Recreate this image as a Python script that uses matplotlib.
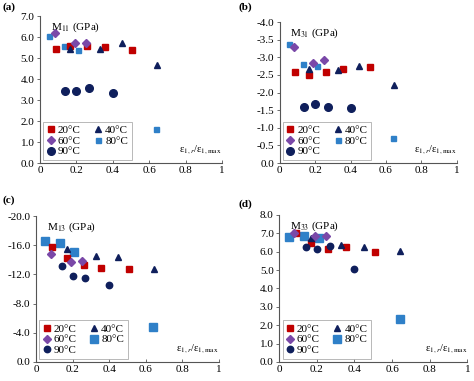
import matplotlib
matplotlib.use('Agg')
from matplotlib import pyplot as plt

plt.rcParams['font.family'] = ['Liberation Serif', 'DejaVu Serif']
plt.rcParams['mathtext.fontset'] = 'stix'

temps = ['20°C', '40°C', '60°C', '80°C', '90°C']

# strain ratio positions for each temperature series
x20 = [0.087, 0.167, 0.26, 0.355, 0.507]
x40 = [0.167, 0.33, 0.45, 0.643]
x60 = [0.08, 0.19, 0.25]
x80 = [0.05, 0.13, 0.21, 0.64]
x90 = [0.14, 0.20, 0.27, 0.40]

# M11 (GPa)
m11_20 = [5.45, 5.56, 5.56, 5.53, 5.39]
m11_40 = [5.42, 5.44, 5.70, 4.69]
m11_60 = [6.21, 5.70, 5.70]
m11_80 = [6.07, 5.55, 5.39, 1.62]
m11_90 = [3.44, 3.44, 3.57, 3.33]

# M31 (GPa)
m31_20 = [-2.59, -2.49, -2.59, -2.67, -2.73]
m31_40 = [-2.68, -2.65, -2.75, -2.21]
m31_60 = [-3.29, -2.84, -2.92]
m31_80 = [-3.39, -2.80, -2.76, -0.72]
m31_90 = [-1.58, -1.69, -1.58, -1.56]

# M13 (GPa)
m13_20 = [-15.74, -14.28, -13.27, -12.81, -12.72]
m13_40 = [-15.47, -14.55, -14.42, -12.77]
m13_60 = [-14.78, -13.68, -13.78]
m13_80 = [-16.57, -16.34, -15.06, -4.81]
m13_90 = [-13.18, -11.76, -11.53, -10.53]

# M33 (GPa)
m33_20 = [7.0, 6.49, 6.13, 6.25, 6.0]
m33_40 = [6.76, 6.35, 6.24, 6.05]
m33_60 = [7.0, 6.87, 6.85]
m33_80 = [6.82, 6.85, 6.73, 2.36]
m33_90 = [6.27, 6.15, 6.31, 5.05]

red = '#C00000'
navy = '#0F1F5C'
purple = '#7A48A8'
blue = '#2F80C8'

fig = plt.figure(figsize=(4.74, 3.81), dpi=100)

panels = [
    ('(a)', (0.006, 1 - 7 / 381), [0.0844, 0.572, 0.384, 0.386], 'M$_{11}$ (GPa)',
     [m11_20, m11_40, m11_60, m11_80, m11_90], (0, 7), [0, 1, 2, 3, 4, 5, 6, 7], 'small'),
    ('(b)', (0.504, 1 - 7 / 381), [0.590, 0.572, 0.374, 0.370], 'M$_{31}$ (GPa)',
     [m31_20, m31_40, m31_60, m31_80, m31_90], (0, -4), [0, -0.5, -1, -1.5, -2, -2.5, -3, -3.5, -4], 'small'),
    ('(c)', (0.006, 1 - 200 / 381), [0.076, 0.050, 0.386, 0.383], 'M$_{13}$ (GPa)',
     [m13_20, m13_40, m13_60, m13_80, m13_90], (0, -20), [0, -4, -8, -12, -16, -20], 'big'),
    ('(d)', (0.504, 1 - 204 / 381), [0.589, 0.050, 0.397, 0.386], 'M$_{33}$ (GPa)',
     [m33_20, m33_40, m33_60, m33_80, m33_90], (0, 8), [0, 1, 2, 3, 4, 5, 6, 7, 8], 'big'),
]

for tag, tagpos, pos, ylab, ys, ylim, yticks, size in panels:
    ax = fig.add_axes(pos)
    if size == 'small':
        ms = {'20': 4.2, '40': 4.0, '60': 4.2, '80': 3.6, '90': 5.5}
    else:
        ms = {'20': 4.0, '40': 4.2, '60': 4.2, '80': 6.0, '90': 4.6}
    h80, = ax.plot(x80, ys[3], 's', color=blue, ms=ms['80'], ls='none', label=temps[3], zorder=2)
    h20, = ax.plot(x20, ys[0], 's', color=red, ms=ms['20'], ls='none', label=temps[0], zorder=2.2)
    h40, = ax.plot(x40, ys[1], '^', color=navy, ms=ms['40'], ls='none', label=temps[1], zorder=2.3)
    h60, = ax.plot(x60, ys[2], 'D', color=purple, ms=ms['60'], ls='none', label=temps[2], zorder=2.4)
    h90, = ax.plot(x90, ys[4], 'o', color=navy, ms=ms['90'], ls='none', label=temps[4], zorder=2.5)

    ax.set_xlim(0, 1)
    ax.set_ylim(*ylim)
    ax.set_xticks([0, 0.2, 0.4, 0.6, 0.8, 1])
    ax.set_xticklabels(['0', '0.2', '0.4', '0.6', '0.8', '1'])
    ax.set_yticks(yticks)
    ax.set_yticklabels(['%.1f' % v for v in yticks])
    ax.tick_params(labelsize=8, length=2, width=0.6, color='#555555', pad=2)
    ax.tick_params(axis='x', direction='in')
    for s in ['top', 'right']:
        ax.spines[s].set_visible(False)
    for s in ['left', 'bottom']:
        ax.spines[s].set_color('#555555')
        ax.spines[s].set_linewidth(0.8)

    ax.text(0.06, 0.97, ylab, transform=ax.transAxes, fontsize=8, va='top', ha='left')
    ax.text(1.0, 0.05, r'ε$_{1,r}$/ε$_{1,\mathrm{max}}$', transform=ax.transAxes,
            fontsize=7.5, va='bottom', ha='right')
    fig.text(tagpos[0], tagpos[1], tag, fontsize=8, fontweight='bold', va='center')

    leg = ax.legend(handles=[h20, h60, h90, h40, h80], ncol=2, loc='lower left',
                    bbox_to_anchor=(0.0, 0.0), fontsize=8, frameon=True, fancybox=False,
                    handlelength=0.7, handletextpad=0.3, columnspacing=1.2,
                    labelspacing=0.1, borderpad=0.3, borderaxespad=0.3)
    leg.get_frame().set_edgecolor('#999999')
    leg.get_frame().set_linewidth(0.6)

fig.savefig('out.png', dpi=100)
